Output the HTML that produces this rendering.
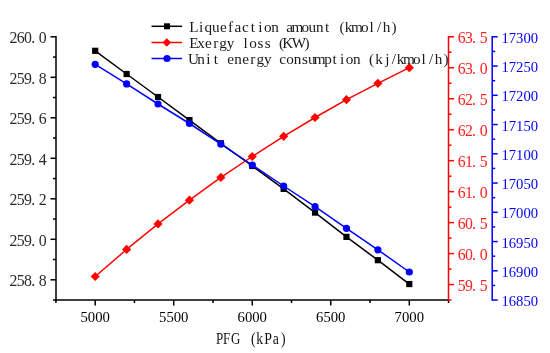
<!DOCTYPE html>
<html><head><meta charset="utf-8"><style>html,body{margin:0;padding:0;background:#fff;}svg{display:block;}</style></head>
<body><svg width="550" height="353" viewBox="0 0 550 353">
<rect width="550" height="353" fill="#fff"/>
<polyline points="95.20,50.80 126.61,74.00 158.02,97.00 189.43,120.10 220.84,143.30 252.25,166.00 283.66,188.90 315.07,212.60 346.48,236.90 377.89,260.20 409.30,284.05" fill="none" stroke="#000" stroke-width="1.5" stroke-linejoin="round"/>
<rect x="92.10" y="47.70" width="6.2" height="6.2" fill="#000"/><rect x="123.51" y="70.90" width="6.2" height="6.2" fill="#000"/><rect x="154.92" y="93.90" width="6.2" height="6.2" fill="#000"/><rect x="186.33" y="117.00" width="6.2" height="6.2" fill="#000"/><rect x="217.74" y="140.20" width="6.2" height="6.2" fill="#000"/><rect x="249.15" y="162.90" width="6.2" height="6.2" fill="#000"/><rect x="280.56" y="185.80" width="6.2" height="6.2" fill="#000"/><rect x="311.97" y="209.50" width="6.2" height="6.2" fill="#000"/><rect x="343.38" y="233.80" width="6.2" height="6.2" fill="#000"/><rect x="374.79" y="257.10" width="6.2" height="6.2" fill="#000"/><rect x="406.20" y="280.95" width="6.2" height="6.2" fill="#000"/>
<polyline points="95.20,276.50 126.61,249.45 158.02,223.90 189.43,200.15 220.84,177.45 252.25,156.50 283.66,136.35 315.07,117.50 346.48,99.70 377.89,83.35 409.30,67.70" fill="none" stroke="#f00" stroke-width="1.5" stroke-linejoin="round"/>
<polygon points="95.20,271.90 99.80,276.50 95.20,281.10 90.60,276.50" fill="#f00"/><polygon points="126.61,244.85 131.21,249.45 126.61,254.05 122.01,249.45" fill="#f00"/><polygon points="158.02,219.30 162.62,223.90 158.02,228.50 153.42,223.90" fill="#f00"/><polygon points="189.43,195.55 194.03,200.15 189.43,204.75 184.83,200.15" fill="#f00"/><polygon points="220.84,172.85 225.44,177.45 220.84,182.05 216.24,177.45" fill="#f00"/><polygon points="252.25,151.90 256.85,156.50 252.25,161.10 247.65,156.50" fill="#f00"/><polygon points="283.66,131.75 288.26,136.35 283.66,140.95 279.06,136.35" fill="#f00"/><polygon points="315.07,112.90 319.67,117.50 315.07,122.10 310.47,117.50" fill="#f00"/><polygon points="346.48,95.10 351.08,99.70 346.48,104.30 341.88,99.70" fill="#f00"/><polygon points="377.89,78.75 382.49,83.35 377.89,87.95 373.29,83.35" fill="#f00"/><polygon points="409.30,63.10 413.90,67.70 409.30,72.30 404.70,67.70" fill="#f00"/>
<polyline points="95.20,64.30 126.61,83.90 158.02,104.00 189.43,123.50 220.84,144.10 252.25,165.00 283.66,186.00 315.07,206.70 346.48,228.30 377.89,249.80 409.30,272.00" fill="none" stroke="#00f" stroke-width="1.5" stroke-linejoin="round"/>
<circle cx="95.20" cy="64.30" r="3.6" fill="#00f"/><circle cx="126.61" cy="83.90" r="3.6" fill="#00f"/><circle cx="158.02" cy="104.00" r="3.6" fill="#00f"/><circle cx="189.43" cy="123.50" r="3.6" fill="#00f"/><circle cx="220.84" cy="144.10" r="3.6" fill="#00f"/><circle cx="252.25" cy="165.00" r="3.6" fill="#00f"/><circle cx="283.66" cy="186.00" r="3.6" fill="#00f"/><circle cx="315.07" cy="206.70" r="3.6" fill="#00f"/><circle cx="346.48" cy="228.30" r="3.6" fill="#00f"/><circle cx="377.89" cy="249.80" r="3.6" fill="#00f"/><circle cx="409.30" cy="272.00" r="3.6" fill="#00f"/>
<line x1="56.00" y1="36.05" x2="56.00" y2="300.80" stroke="#000" stroke-width="1.5"/>
<line x1="53.00" y1="300.05" x2="56.00" y2="300.05" stroke="#000" stroke-width="1.5"/>
<line x1="50.50" y1="279.80" x2="56.00" y2="279.80" stroke="#000" stroke-width="1.5"/>
<line x1="53.00" y1="259.55" x2="56.00" y2="259.55" stroke="#000" stroke-width="1.5"/>
<line x1="50.50" y1="239.30" x2="56.00" y2="239.30" stroke="#000" stroke-width="1.5"/>
<line x1="53.00" y1="219.05" x2="56.00" y2="219.05" stroke="#000" stroke-width="1.5"/>
<line x1="50.50" y1="198.80" x2="56.00" y2="198.80" stroke="#000" stroke-width="1.5"/>
<line x1="53.00" y1="178.55" x2="56.00" y2="178.55" stroke="#000" stroke-width="1.5"/>
<line x1="50.50" y1="158.30" x2="56.00" y2="158.30" stroke="#000" stroke-width="1.5"/>
<line x1="53.00" y1="138.05" x2="56.00" y2="138.05" stroke="#000" stroke-width="1.5"/>
<line x1="50.50" y1="117.80" x2="56.00" y2="117.80" stroke="#000" stroke-width="1.5"/>
<line x1="53.00" y1="97.55" x2="56.00" y2="97.55" stroke="#000" stroke-width="1.5"/>
<line x1="50.50" y1="77.30" x2="56.00" y2="77.30" stroke="#000" stroke-width="1.5"/>
<line x1="53.00" y1="57.05" x2="56.00" y2="57.05" stroke="#000" stroke-width="1.5"/>
<line x1="50.50" y1="36.80" x2="56.00" y2="36.80" stroke="#000" stroke-width="1.5"/>
<line x1="55.25" y1="300.05" x2="449.25" y2="300.05" stroke="#000" stroke-width="1.5"/>
<line x1="55.94" y1="300.05" x2="55.94" y2="303.05" stroke="#000" stroke-width="1.5"/>
<line x1="95.20" y1="300.05" x2="95.20" y2="305.55" stroke="#000" stroke-width="1.5"/>
<line x1="134.46" y1="300.05" x2="134.46" y2="303.05" stroke="#000" stroke-width="1.5"/>
<line x1="173.72" y1="300.05" x2="173.72" y2="305.55" stroke="#000" stroke-width="1.5"/>
<line x1="212.99" y1="300.05" x2="212.99" y2="303.05" stroke="#000" stroke-width="1.5"/>
<line x1="252.25" y1="300.05" x2="252.25" y2="305.55" stroke="#000" stroke-width="1.5"/>
<line x1="291.51" y1="300.05" x2="291.51" y2="303.05" stroke="#000" stroke-width="1.5"/>
<line x1="330.77" y1="300.05" x2="330.77" y2="305.55" stroke="#000" stroke-width="1.5"/>
<line x1="370.04" y1="300.05" x2="370.04" y2="303.05" stroke="#000" stroke-width="1.5"/>
<line x1="409.30" y1="300.05" x2="409.30" y2="305.55" stroke="#000" stroke-width="1.5"/>
<line x1="448.56" y1="300.05" x2="448.56" y2="303.05" stroke="#000" stroke-width="1.5"/>
<line x1="448.50" y1="36.05" x2="448.50" y2="300.80" stroke="#f00" stroke-width="1.5"/>
<line x1="448.50" y1="300.05" x2="451.50" y2="300.05" stroke="#f00" stroke-width="1.5"/>
<line x1="448.50" y1="284.56" x2="454.00" y2="284.56" stroke="#f00" stroke-width="1.5"/>
<line x1="448.50" y1="269.08" x2="451.50" y2="269.08" stroke="#f00" stroke-width="1.5"/>
<line x1="448.50" y1="253.59" x2="454.00" y2="253.59" stroke="#f00" stroke-width="1.5"/>
<line x1="448.50" y1="238.11" x2="451.50" y2="238.11" stroke="#f00" stroke-width="1.5"/>
<line x1="448.50" y1="222.62" x2="454.00" y2="222.62" stroke="#f00" stroke-width="1.5"/>
<line x1="448.50" y1="207.14" x2="451.50" y2="207.14" stroke="#f00" stroke-width="1.5"/>
<line x1="448.50" y1="191.65" x2="454.00" y2="191.65" stroke="#f00" stroke-width="1.5"/>
<line x1="448.50" y1="176.17" x2="451.50" y2="176.17" stroke="#f00" stroke-width="1.5"/>
<line x1="448.50" y1="160.68" x2="454.00" y2="160.68" stroke="#f00" stroke-width="1.5"/>
<line x1="448.50" y1="145.20" x2="451.50" y2="145.20" stroke="#f00" stroke-width="1.5"/>
<line x1="448.50" y1="129.71" x2="454.00" y2="129.71" stroke="#f00" stroke-width="1.5"/>
<line x1="448.50" y1="114.23" x2="451.50" y2="114.23" stroke="#f00" stroke-width="1.5"/>
<line x1="448.50" y1="98.74" x2="454.00" y2="98.74" stroke="#f00" stroke-width="1.5"/>
<line x1="448.50" y1="83.26" x2="451.50" y2="83.26" stroke="#f00" stroke-width="1.5"/>
<line x1="448.50" y1="67.77" x2="454.00" y2="67.77" stroke="#f00" stroke-width="1.5"/>
<line x1="448.50" y1="52.29" x2="451.50" y2="52.29" stroke="#f00" stroke-width="1.5"/>
<line x1="448.50" y1="36.80" x2="454.00" y2="36.80" stroke="#f00" stroke-width="1.5"/>
<line x1="492.20" y1="36.05" x2="492.20" y2="300.80" stroke="#00f" stroke-width="1.5"/>
<line x1="492.20" y1="300.05" x2="497.70" y2="300.05" stroke="#00f" stroke-width="1.5"/>
<line x1="492.20" y1="285.43" x2="495.20" y2="285.43" stroke="#00f" stroke-width="1.5"/>
<line x1="492.20" y1="270.80" x2="497.70" y2="270.80" stroke="#00f" stroke-width="1.5"/>
<line x1="492.20" y1="256.18" x2="495.20" y2="256.18" stroke="#00f" stroke-width="1.5"/>
<line x1="492.20" y1="241.55" x2="497.70" y2="241.55" stroke="#00f" stroke-width="1.5"/>
<line x1="492.20" y1="226.93" x2="495.20" y2="226.93" stroke="#00f" stroke-width="1.5"/>
<line x1="492.20" y1="212.30" x2="497.70" y2="212.30" stroke="#00f" stroke-width="1.5"/>
<line x1="492.20" y1="197.68" x2="495.20" y2="197.68" stroke="#00f" stroke-width="1.5"/>
<line x1="492.20" y1="183.05" x2="497.70" y2="183.05" stroke="#00f" stroke-width="1.5"/>
<line x1="492.20" y1="168.43" x2="495.20" y2="168.43" stroke="#00f" stroke-width="1.5"/>
<line x1="492.20" y1="153.80" x2="497.70" y2="153.80" stroke="#00f" stroke-width="1.5"/>
<line x1="492.20" y1="139.18" x2="495.20" y2="139.18" stroke="#00f" stroke-width="1.5"/>
<line x1="492.20" y1="124.55" x2="497.70" y2="124.55" stroke="#00f" stroke-width="1.5"/>
<line x1="492.20" y1="109.93" x2="495.20" y2="109.93" stroke="#00f" stroke-width="1.5"/>
<line x1="492.20" y1="95.30" x2="497.70" y2="95.30" stroke="#00f" stroke-width="1.5"/>
<line x1="492.20" y1="80.68" x2="495.20" y2="80.68" stroke="#00f" stroke-width="1.5"/>
<line x1="492.20" y1="66.05" x2="497.70" y2="66.05" stroke="#00f" stroke-width="1.5"/>
<line x1="492.20" y1="51.43" x2="495.20" y2="51.43" stroke="#00f" stroke-width="1.5"/>
<line x1="492.20" y1="36.80" x2="497.70" y2="36.80" stroke="#00f" stroke-width="1.5"/>
<text x="13.41 20.75 28.07 33.11 42.73" y="286.19999999999766" fill="#2a2a2a" font-size="15.8" text-anchor="middle" font-family='"Liberation Serif", serif'>258.8</text>
<text x="13.41 20.75 28.07 33.11 42.73" y="245.70000000000002" fill="#2a2a2a" font-size="15.8" text-anchor="middle" font-family='"Liberation Serif", serif'>259.0</text>
<text x="13.41 20.75 28.07 33.11 42.73" y="205.2000000000023" fill="#2a2a2a" font-size="15.8" text-anchor="middle" font-family='"Liberation Serif", serif'>259.2</text>
<text x="13.41 20.75 28.07 33.11 42.73" y="164.69999999999308" fill="#2a2a2a" font-size="15.8" text-anchor="middle" font-family='"Liberation Serif", serif'>259.4</text>
<text x="13.41 20.75 28.07 33.11 42.73" y="124.1999999999954" fill="#2a2a2a" font-size="15.8" text-anchor="middle" font-family='"Liberation Serif", serif'>259.6</text>
<text x="13.41 20.75 28.07 33.11 42.73" y="83.6999999999977" fill="#2a2a2a" font-size="15.8" text-anchor="middle" font-family='"Liberation Serif", serif'>259.8</text>
<text x="13.41 20.75 28.07 33.11 42.73" y="43.199999999999996" fill="#2a2a2a" font-size="15.8" text-anchor="middle" font-family='"Liberation Serif", serif'>260.0</text>
<text x="461.67 469.00 474.02 483.65" y="290.9647058823551" fill="#ff2020" font-size="15.8" text-anchor="middle" font-family='"Liberation Serif", serif'>59.5</text>
<text x="461.67 469.00 474.02 483.65" y="259.9941176470607" fill="#ff2020" font-size="15.8" text-anchor="middle" font-family='"Liberation Serif", serif'>60.0</text>
<text x="461.67 469.00 474.02 483.65" y="229.02352941176633" fill="#ff2020" font-size="15.8" text-anchor="middle" font-family='"Liberation Serif", serif'>60.5</text>
<text x="461.67 469.00 474.02 483.65" y="198.05294117647193" fill="#ff2020" font-size="15.8" text-anchor="middle" font-family='"Liberation Serif", serif'>61.0</text>
<text x="461.67 469.00 474.02 483.65" y="167.08235294117756" fill="#ff2020" font-size="15.8" text-anchor="middle" font-family='"Liberation Serif", serif'>61.5</text>
<text x="461.67 469.00 474.02 483.65" y="136.11176470588316" fill="#ff2020" font-size="15.8" text-anchor="middle" font-family='"Liberation Serif", serif'>62.0</text>
<text x="461.67 469.00 474.02 483.65" y="105.14117647058879" fill="#ff2020" font-size="15.8" text-anchor="middle" font-family='"Liberation Serif", serif'>62.5</text>
<text x="461.67 469.00 474.02 483.65" y="74.17058823529439" fill="#ff2020" font-size="15.8" text-anchor="middle" font-family='"Liberation Serif", serif'>63.0</text>
<text x="461.67 469.00 474.02 483.65" y="43.20000000000001" fill="#ff2020" font-size="15.8" text-anchor="middle" font-family='"Liberation Serif", serif'>63.5</text>
<text x="501.4" y="306.05" fill="#00f" font-size="14.7" font-family='"Liberation Serif", serif'>16850</text>
<text x="501.4" y="276.80" fill="#00f" font-size="14.7" font-family='"Liberation Serif", serif'>16900</text>
<text x="501.4" y="247.55" fill="#00f" font-size="14.7" font-family='"Liberation Serif", serif'>16950</text>
<text x="501.4" y="218.30" fill="#00f" font-size="14.7" font-family='"Liberation Serif", serif'>17000</text>
<text x="501.4" y="189.05" fill="#00f" font-size="14.7" font-family='"Liberation Serif", serif'>17050</text>
<text x="501.4" y="159.80" fill="#00f" font-size="14.7" font-family='"Liberation Serif", serif'>17100</text>
<text x="501.4" y="130.55" fill="#00f" font-size="14.7" font-family='"Liberation Serif", serif'>17150</text>
<text x="501.4" y="101.30" fill="#00f" font-size="14.7" font-family='"Liberation Serif", serif'>17200</text>
<text x="501.4" y="72.05" fill="#00f" font-size="14.7" font-family='"Liberation Serif", serif'>17250</text>
<text x="501.4" y="42.80" fill="#00f" font-size="14.7" font-family='"Liberation Serif", serif'>17300</text>
<text x="95.20" y="322.3" fill="#000" font-size="14.7" text-anchor="middle" font-family='"Liberation Serif", serif'>5000</text>
<text x="173.72" y="322.3" fill="#000" font-size="14.7" text-anchor="middle" font-family='"Liberation Serif", serif'>5500</text>
<text x="252.25" y="322.3" fill="#000" font-size="14.7" text-anchor="middle" font-family='"Liberation Serif", serif'>6000</text>
<text x="330.77" y="322.3" fill="#000" font-size="14.7" text-anchor="middle" font-family='"Liberation Serif", serif'>6500</text>
<text x="409.30" y="322.3" fill="#000" font-size="14.7" text-anchor="middle" font-family='"Liberation Serif", serif'>7000</text>
<text transform="scale(0.8,1)" x="274.50 283.25 294.50" y="343.8" font-family='"Liberation Serif", serif' font-size="16.2" fill="#111" text-anchor="middle">PFG</text>
<text transform="scale(0.85,1)" x="297.88 305.65 315.29 324.47 333.18" y="343.7" font-family='"Liberation Serif", serif' font-size="16.2" fill="#111" text-anchor="middle">(kPa)</text>
<line x1="151.50" y1="26.30" x2="182.10" y2="26.30" stroke="#000" stroke-width="1.5"/>
<rect x="164.00" y="23.30" width="6.0" height="6.0" fill="#000"/>
<line x1="151.50" y1="42.50" x2="182.10" y2="42.50" stroke="#f00" stroke-width="1.5"/>
<polygon points="166.8,38.2 171.10000000000002,42.5 166.8,46.8 162.5,42.5" fill="#f00"/>
<line x1="151.50" y1="58.50" x2="182.10" y2="58.50" stroke="#00f" stroke-width="1.5"/>
<circle cx="167.0" cy="58.5" r="3.6" fill="#00f"/>
<text x="193.85 201.02 208.31 215.90 223.26 230.48 237.97 245.49 252.94 260.38 267.81 275.17 282.65 289.64 297.37 305.25 312.36 319.69 327.14 334.59 341.92 348.62 356.94 364.81 371.69 379.11 386.56 394.04" y="31.9" font-family='"Liberation Serif", serif' font-size="15.2" fill="#1a1a1a" text-anchor="middle">Liquefaction amount (kmol/h)</text>
<text x="193.77 201.06 208.42 215.78 223.11 230.65 238.13 245.55 252.97 260.35 267.77 275.23 281.62 287.61 298.81 306.96" y="47.9" font-family='"Liberation Serif", serif' font-size="15.2" fill="#1a1a1a" text-anchor="middle">Exergy loss (KW)</text>
<text x="193.49 201.09 208.44 215.84 223.29 230.68 238.07 245.52 252.88 260.21 267.75 275.23 282.59 290.07 297.43 304.87 311.70 319.76 327.96 334.56 342.00 349.43 356.79 364.27 371.60 378.97 387.40 393.95 400.56 408.88 416.75 423.63 431.05 438.50 445.98" y="63.7" font-family='"Liberation Serif", serif' font-size="15.2" fill="#1a1a1a" text-anchor="middle">Unit energy consumption (kj/kmol/h)</text>
</svg></body></html>
